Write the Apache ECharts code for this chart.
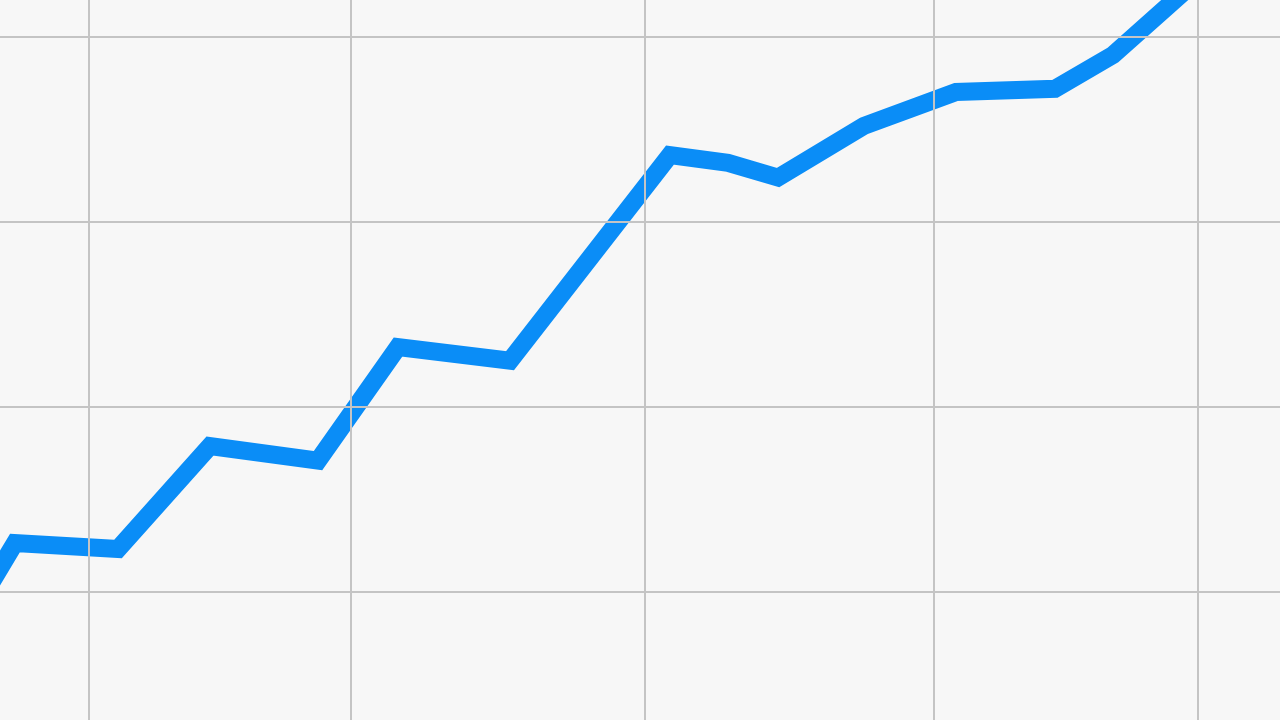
<!DOCTYPE html>
<html>
<head>
<meta charset="utf-8">
<script src="https://cdn.jsdelivr.net/npm/echarts@6/dist/echarts.min.js"></script>
<style>
html,body{margin:0;padding:0;background:#f7f7f7;}
#chart{width:1280px;height:720px;}
</style>
</head>
<body>
<div id="chart"></div>
<script>
// x positions of the points (horizontal units), y values
const xValues = [-20, 15, 118, 210, 318, 398, 510, 670, 728, 778, 864, 956, 1055, 1113, 1240];
const yValues = [0.95, 1.265, 1.232, 1.789, 1.71, 2.324, 2.25, 3.362, 3.32, 3.24, 3.52, 3.703, 3.72, 3.903, 4.514];
// grid lines (irregular vertical ones, horizontal at whole units)
const xGridTicks = [89, 351, 645, 934, 1198];
const yGridTicks = [1, 2, 3, 4];
const yMin = 0.308, yMax = 4.2;

const chart = echarts.init(document.getElementById('chart'));
const seriesData = xValues.map((x, i) => [x, yValues[i]]);

chart.setOption({
  backgroundColor: '#f7f7f7',
  animation: false,
  grid: { left: 0, right: 0, top: 0, bottom: 0, containLabel: false },
  xAxis: {
    type: 'value', min: 0, max: 1280,
    axisLine: { show: false }, axisTick: { show: false }, axisLabel: { show: false },
    splitLine: { show: false }
  },
  yAxis: {
    type: 'value', min: yMin, max: yMax,
    axisLine: { show: false }, axisTick: { show: false }, axisLabel: { show: false },
    splitLine: { show: false }
  },
  series: [
    {
      type: 'line', z: 1, data: [], silent: true,
      markLine: {
        silent: true, symbol: ['none', 'none'], label: { show: false },
        lineStyle: { color: '#c4c4c4', width: 2, type: 'solid' },
        data: xGridTicks.map(v => ({ xAxis: v })).concat(yGridTicks.map(v => ({ yAxis: v })))
      }
    },
    {
      type: 'line', z: 3, data: seriesData, showSymbol: false, symbol: 'none',
      clip: true, silent: true,
      lineStyle: { color: '#0a8df7', width: 18, join: 'miter' }
    }
  ]
});
</script>
</body>
</html>
